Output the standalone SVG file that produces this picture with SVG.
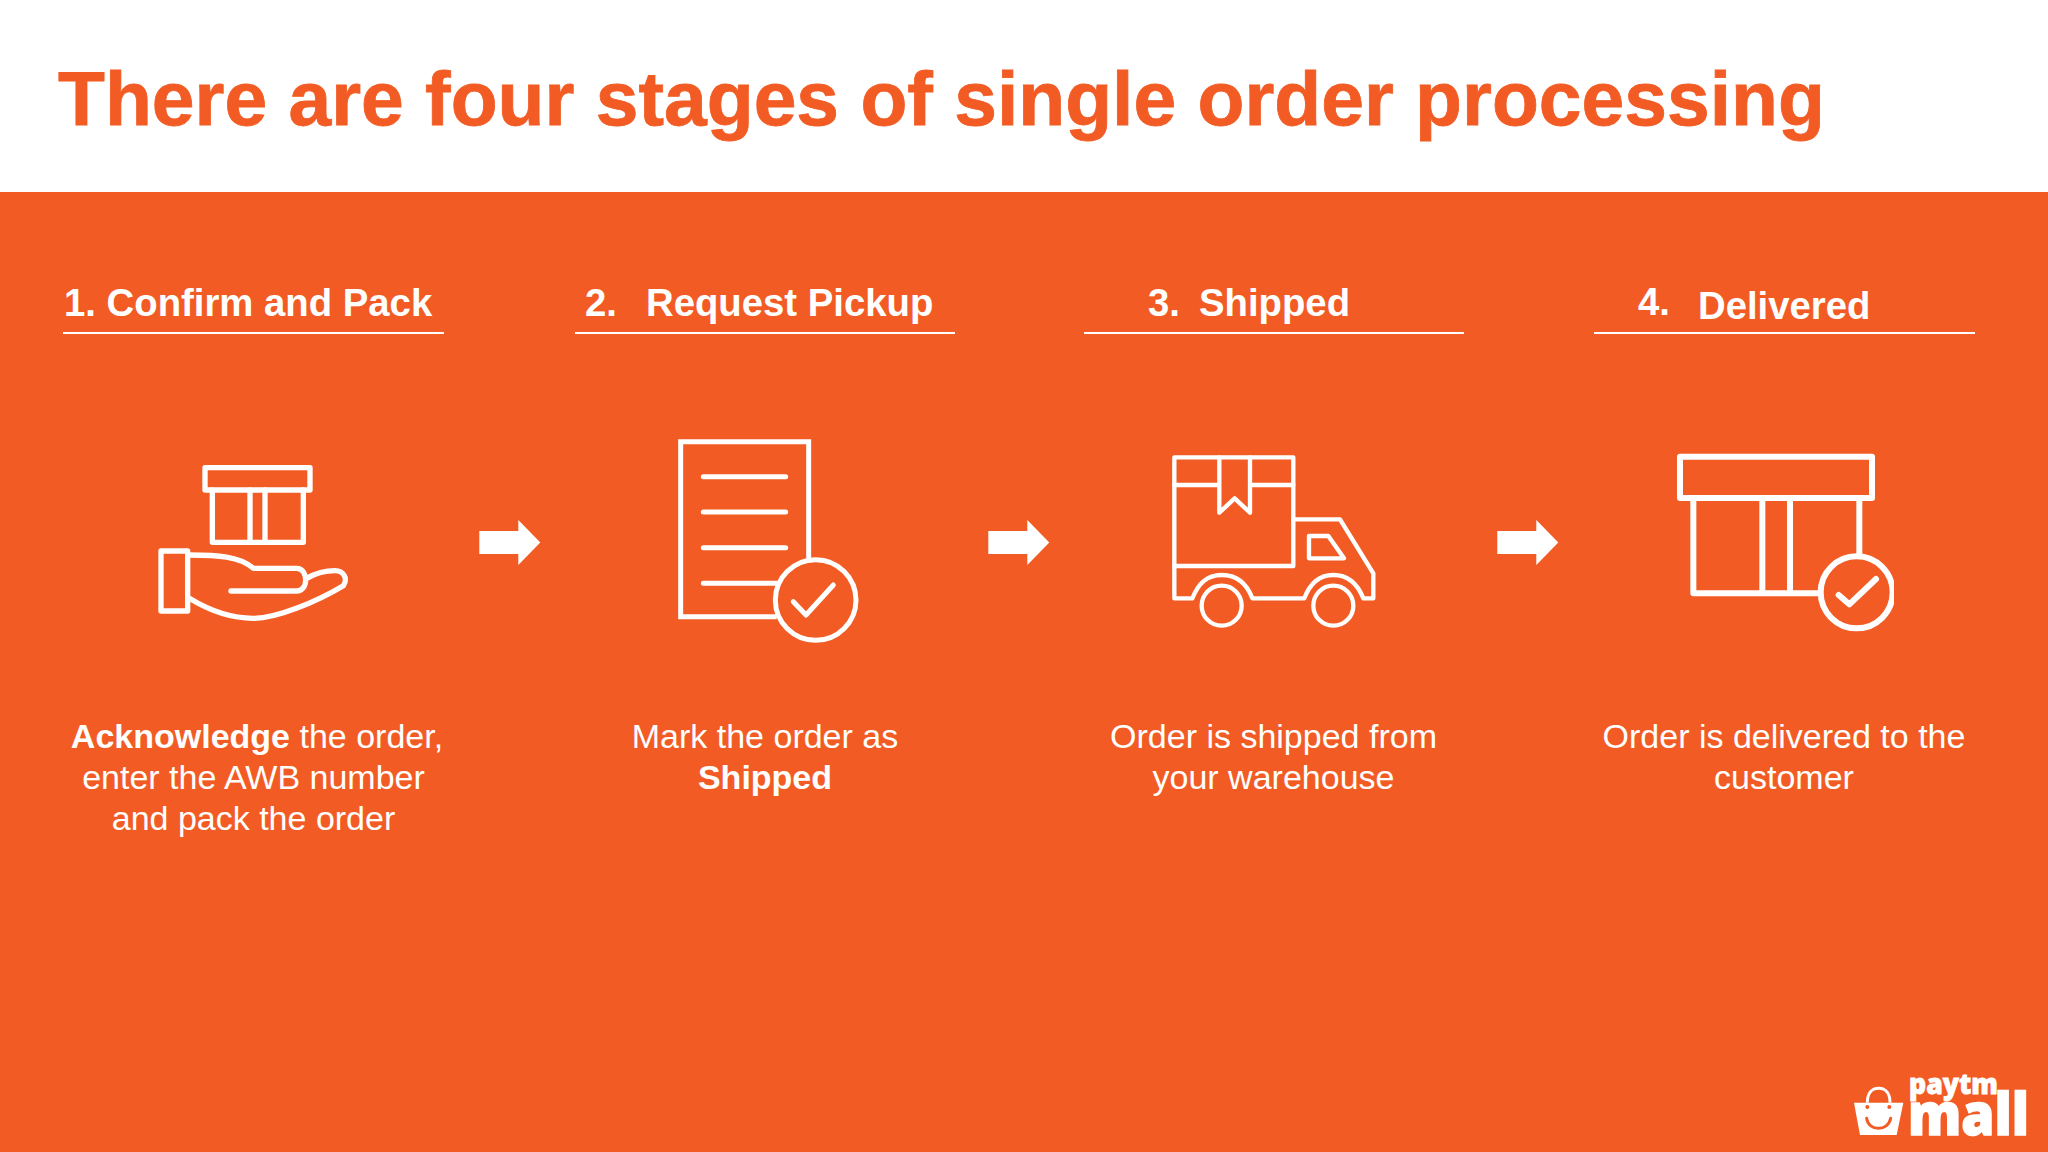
<svg xmlns="http://www.w3.org/2000/svg" width="2048" height="1152" viewBox="0 0 2048 1152">
<style>
text{font-family:"Liberation Sans",Arial,sans-serif;fill:#fff}
.title{font-size:76.800px;font-weight:700;fill:#F25C24;stroke:#F25C24;stroke-width:.8}
.head{font-size:38.300px;font-weight:700}
.body{font-size:34px;text-anchor:middle}
.b{font-weight:700}
.rule{stroke:#fff;stroke-width:2;fill:none}
.ic{fill:none;stroke:#fff;stroke-linecap:round;stroke-linejoin:round}
.logo{font-family:"Open Sans","Liberation Sans",sans-serif;font-weight:800;stroke:#fff}
</style>
<defs>
<path id="arrow" d="M0 11H39V0L61 22.500 39 45V34H0Z" fill="#fff"/>
<clipPath id="cut"><rect x="0" y="0" width="762" height="660"/></clipPath>
</defs>
<rect width="2048" height="1152" fill="#fff"/>
<rect y="192" width="2048" height="960" fill="#F25C24"/>
<text class="title" x="58" y="125">There are four stages of single order processing</text>

<g id="node1">
<text class="head" x="64" y="316">1. Confirm and Pack</text>
<line class="rule" x1="63" y1="333" x2="444" y2="333"/>
<g class="ic" transform="translate(130 420) scale(.33333)" stroke-width="16">
<rect x="225" y="143" width="315" height="67"/>
<path d="M247 210V367H520V210M360 210V367M405 210V367"/>
<rect x="93" y="393" width="80" height="180"/>
<path d="M178 405C260 405 330 408 370 445H500C520 445 527 465 527 480C527 500 515 513 500 513H303M530 475C560 458 590 452 615 452C640 452 655 475 640 497C560 545 440 595 370 595C300 595 235 570 178 535"/>
</g>
<text class="body" x="257" y="748"><tspan class="b">Acknowledge</tspan> the order,</text>
<text class="body" x="253.500" y="789">enter the AWB number</text>
<text class="body" x="253.500" y="830">and pack the order</text>
</g>

<g id="node2">
<text class="head" x="585" y="316">2.</text>
<text class="head" x="646" y="316">Request Pickup</text>
<line class="rule" x1="575" y1="333" x2="955" y2="333"/>
<g class="ic" transform="translate(660 420) scale(.33333)" stroke-width="15">
<path stroke-linecap="butt" stroke-linejoin="miter" d="M446 415V65H62V590H350"/>
<path d="M130 170H377M130 276H377M130 383H377M130 490H350"/>
<circle cx="467" cy="540" r="121"/>
<path d="M400 545L438 585L520 495"/>
</g>
<text class="body" x="765" y="748">Mark the order as</text>
<text class="body b" x="765" y="789">Shipped</text>
</g>

<g id="node3">
<text class="head" x="1148" y="316">3.</text>
<text class="head" x="1199" y="316">Shipped</text>
<line class="rule" x1="1084" y1="333" x2="1464" y2="333"/>
<g class="ic" transform="translate(1140 430) scale(.33333)" stroke-width="13">
<rect x="103" y="82" width="357" height="326"/>
<path d="M103 165H235M330 165H460M238 82V248L284 205L330 248V82"/>
<path d="M460 268H600L700 430V505H670C650 455 620 435 580 435C540 435 510 460 493 505H337C320 460 290 435 245 435C200 435 175 460 157 505H103V408"/>
<path d="M507 318H565L612 385H507Z"/>
<circle cx="245" cy="527" r="60"/>
<circle cx="580" cy="527" r="60"/>
</g>
<text class="body" x="1273.500" y="748">Order is shipped from</text>
<text class="body" x="1273.500" y="789">your warehouse</text>
</g>

<g id="node4">
<text class="head" x="1638" y="315">4.</text>
<text class="head" x="1698" y="319">Delivered</text>
<line class="rule" x1="1594" y1="333" x2="1975" y2="333"/>
<g class="ic" transform="translate(1640 430) scale(.33333)" stroke-width="18">
<rect x="120" y="80" width="576" height="124"/>
<path d="M160 204V490H540M658 204V375M367 204V490M450 204V490"/>
<circle cx="650" cy="487" r="108" clip-path="url(#cut)"/>
<path d="M596 495L628 523L708 447"/>
</g>
<text class="body" x="1784" y="748">Order is delivered to the</text>
<text class="body" x="1784" y="789">customer</text>
</g>

<g id="connectors">
<use href="#arrow" x="479.300" y="520"/>
<use href="#arrow" x="988.300" y="520"/>
<use href="#arrow" x="1497.300" y="520"/>
</g>

<g id="logo">
<path transform="translate(1830 1050) scale(.33333)" d="M112 158C112 130 125 115 146 115C167 115 180 130 180 158" fill="none" stroke="#fff" stroke-width="9"/>
<path transform="translate(1830 1050) scale(.33333)" d="M72 158H220L200 255H90Z" fill="#fff"/>
<g transform="translate(1830 1050) scale(.33333)">
<circle cx="112" cy="171" r="6" fill="#F25C24"/><circle cx="178" cy="171" r="6" fill="#F25C24"/>
<path d="M110 205C115 245 175 245 182 205" fill="none" stroke="#F25C24" stroke-width="9" stroke-linecap="round"/>
</g>
<text class="logo" x="1909" y="1094" font-size="29" stroke-width=".8" textLength="89" lengthAdjust="spacingAndGlyphs">paytm</text>
<text class="logo" x="1908" y="1135" font-size="58" stroke-width="1.500" textLength="121" lengthAdjust="spacingAndGlyphs">mall</text>
</g>
</svg>
